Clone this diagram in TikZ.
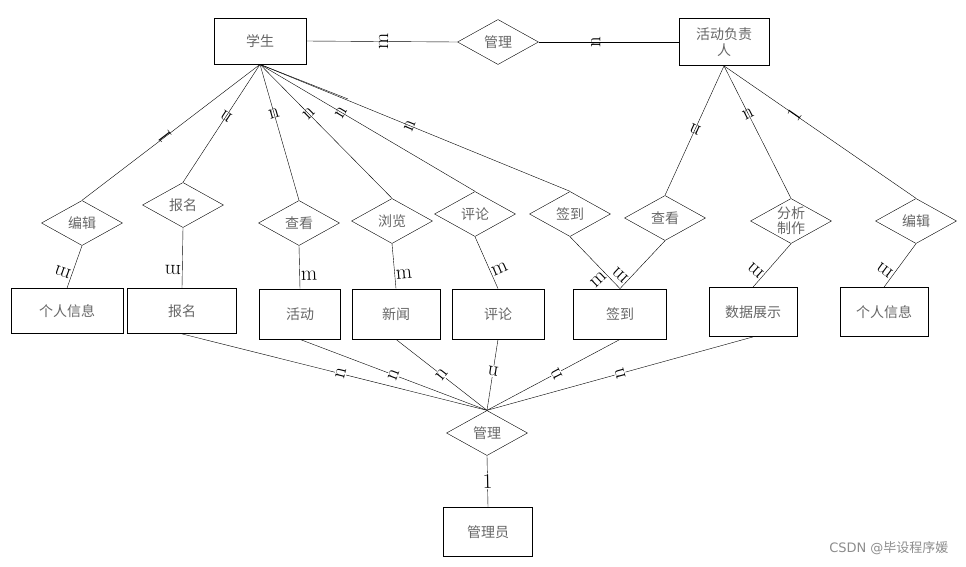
\documentclass[tikz,border=0pt]{standalone}
\usepackage{fontspec}
\newfontfamily\cjk{Noto Sans CJK SC}
\usetikzlibrary{shapes.geometric}
\begin{document}
\begin{tikzpicture}[x=1pt,y=-1pt,
  ent/.style={draw,thick,minimum width=#1,minimum height=46pt,inner sep=1pt,font=\cjk\fontsize{14}{16}\selectfont,text=black!60,align=center},
  ent/.default=90pt,
  rel/.style={draw,diamond,aspect=1.8,minimum width=81pt,minimum height=45pt,inner sep=0pt,font=\cjk\fontsize{14}{15}\selectfont,text=black!60,align=center},
  lab/.style={sloped,rotate=90,font=\fontsize{21}{21}\selectfont,inner sep=1pt}]
\useasboundingbox (0,0) rectangle (966,566);
% top
\node[ent=92pt] (stu) at (260,41) {学生};
\node[rel] (mg) at (498,42) {管理};
\node[ent=90pt,minimum height=47pt] (hd) at (724,42) {活动负责\\人};
% relations
\node[rel] (r1) at (82,223) {编辑};
\node[rel] (r2) at (183,205) {报名};
\node[rel] (r3) at (299,223) {查看};
\node[rel] (r4) at (392,221) {浏览};
\node[rel] (r5) at (475,214) {评论};
\node[rel] (r6) at (570,214) {签到};
\node[rel] (r7) at (665,218) {查看};
\node[rel] (r8) at (791,221) {分析\\制作};
\node[rel] (r9) at (916,221) {编辑};
% entities
\node[ent=112pt,minimum height=45pt] (e1) at (67,311) {个人信息};
\node[ent=109pt,minimum height=45pt] (e2) at (182,311) {报名};
\node[ent=81pt,minimum height=50pt] (e3) at (300,314) {活动};
\node[ent=88pt,minimum height=50pt] (e4) at (396,314) {新闻};
\node[ent=92pt,minimum height=50pt] (e5) at (498,314) {评论};
\node[ent=93pt,minimum height=50pt] (e6) at (620,314) {签到};
\node[ent=88pt,minimum height=49pt] (e7) at (753,312) {数据展示};
\node[ent=88pt,minimum height=49pt] (e8) at (884,312) {个人信息};
% bottom
\node[rel] (mb) at (487,433) {管理};
\node[ent=89pt,minimum height=49pt] (adm) at (488,532) {管理员};
\coordinate (stub) at (348,99);
\coordinate (sb) at (stu.south);
\coordinate (hb) at (hd.south);
% top connectors
\draw (stu.east) -- node[lab,above,pos=0.55] {m} (mg.west);
\draw (mg.east) -- node[lab,above,pos=0.45] {n} (hd.west);
\draw (sb) -- node[lab,above,pos=0.5] {1} (r1.north);
\draw (sb) -- node[lab,above,pos=0.4] {n} (r2.north);
\draw (sb) -- node[lab,above,pos=0.4] {n} (r3.north);
\draw (sb) -- node[lab,above,pos=0.4] {n} (r4.north);
\draw (sb) -- node[lab,above,pos=0.4] {n} (r5.north);
\draw (sb) -- (stub);
\draw (sb) -- node[lab,above,pos=0.5] {n} (r6.north);
\draw (hb) -- node[lab,above,pos=0.45] {n} (r7.north);
\draw (hb) -- node[lab,above,pos=0.4] {n} (r8.north);
\draw (hb) -- node[lab,above,pos=0.4] {1} (r9.north);
% relation to entity
\draw (r1.south) -- node[lab,right,pos=0.7] {m} (e1.north);
\draw (r2.south) -- node[lab,right,pos=0.7] {m} (e2.north);
\draw (r3.south) -- node[lab,right,pos=0.7] {m} (e3.north);
\draw (r4.south) -- node[lab,right,pos=0.7] {m} (e4.north);
\draw (r5.south) -- node[lab,right,pos=0.7] {m} (e5.north);
\draw (r6.south) -- node[lab,left,pos=0.7] {m} (e6.north);
\draw (r7.south) -- node[lab,right,pos=0.85] {m} (e6.north);
\draw (r8.south) -- node[lab,right,pos=0.75] {m} (e7.north);
\draw (r9.south) -- node[lab,right,pos=0.75] {m} (e8.north);
% bottom
\draw (e2.south) -- node[lab,pos=0.52,fill=white] {n} (mb.north);
\draw (e3.south) -- node[lab,pos=0.5,fill=white] {n} (mb.north);
\draw (e4.south) -- node[lab,pos=0.5,fill=white] {n} (mb.north);
\draw (e5.south) -- node[lab,pos=0.45,fill=white] {n} (mb.north);
\draw (e6.south) -- node[lab,pos=0.48,fill=white] {n} (mb.north);
\draw (e7.south) -- node[lab,pos=0.5,fill=white] {n} (mb.north);
\draw (mb.south) -- node[lab,pos=0.5,fill=white] {1} (adm.north);
\node[font=\fontspec{DejaVu Sans}\fontsize{13}{14}\selectfont,text=black!45,anchor=east] (wm) at (952,548) {CSDN @{\cjk 毕设程序媛}};
\end{tikzpicture}
\end{document}
